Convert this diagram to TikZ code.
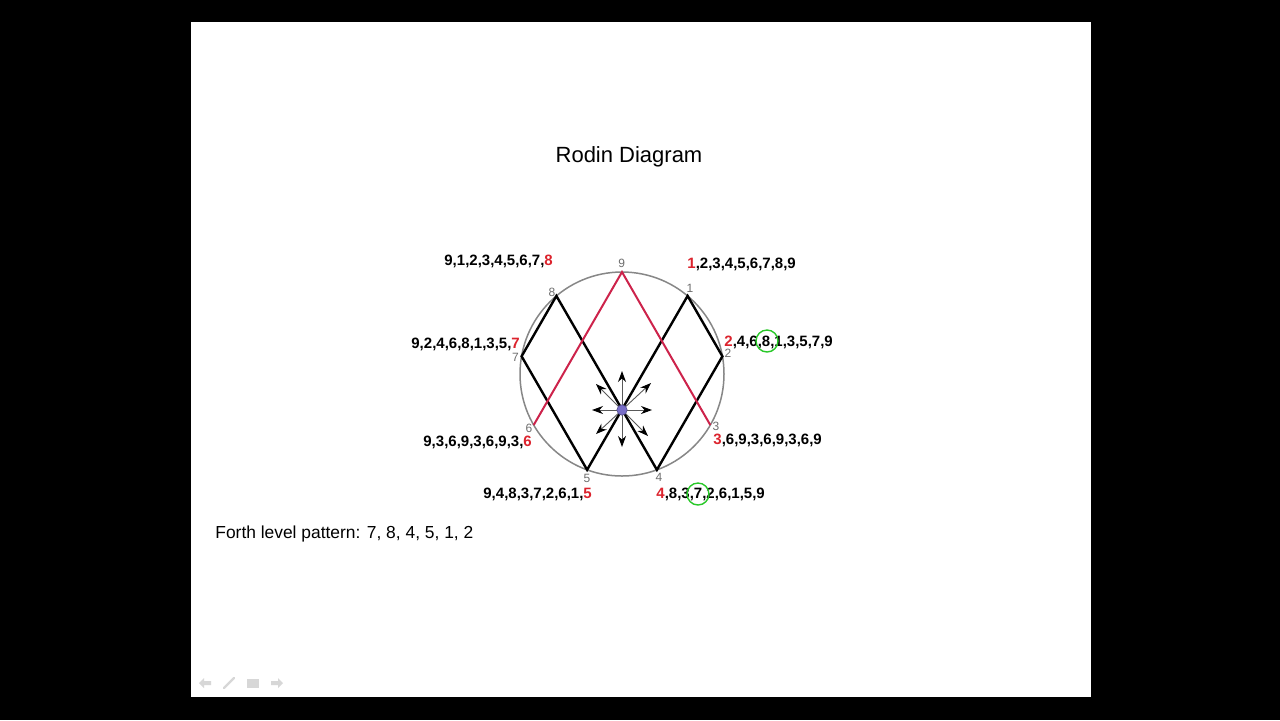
\documentclass[tikz,border=0pt]{standalone}
\usepackage{fontspec}
\setmainfont{Liberation Sans}
\usetikzlibrary{arrows.meta}
\definecolor{rodred}{RGB}{205,35,75}
\definecolor{labred}{RGB}{220,35,45}
\definecolor{ringgray}{RGB}{135,135,135}
\definecolor{numgray}{RGB}{110,110,110}
\definecolor{hubblue}{RGB}{120,110,200}
\definecolor{mark}{RGB}{40,200,40}
\definecolor{navgray}{RGB}{215,215,215}
\newcommand{\rd}[1]{\textcolor{labred}{#1}}
\tikzset{
  ring/.style={draw=ringgray, line width=0.75pt},
  blackpath/.style={draw=black, line width=1.2pt, line join=miter},
  redpath/.style={draw=rodred, line width=1pt, line join=miter},
  vnum/.style={text=numgray, font=\fontsize{6}{7}\selectfont, inner sep=0pt},
  seq/.style={font=\bfseries\fontsize{7.5}{9}\selectfont, inner sep=0pt, anchor=base west},
  ray/.style={draw=black!65, line width=0.45pt, -{Stealth[length=5.5pt,width=4pt,color=black]}},
  mk/.style={circle, draw=mark, line width=0.7pt, minimum size=11pt, inner sep=0pt},
  nav/.style={draw=navgray, fill=navgray, line width=0.6pt}
}
\begin{document}
\begin{tikzpicture}[x=0.5pt,y=-0.5pt]
\useasboundingbox (0,0) rectangle (1280,720);
\fill[black] (0,0) rectangle (1280,720);
\fill[white] (191,22) rectangle (1091,697);

% title
\node[font=\fontsize{11}{13}\selectfont, anchor=base, inner sep=0pt] (title) at (629,162) {Rodin Diagram};

% circle and vertices
\node[ring, circle, minimum size=102pt, inner sep=0pt] (ringc) at (622,374) {};
\coordinate (v9) at (622,272);
\coordinate (v1) at (687.6,295.9);
\coordinate (v2) at (722.4,356.3);
\coordinate (v3) at (710.3,425);
\coordinate (v4) at (656.9,469.8);
\coordinate (v5) at (587.1,469.8);
\coordinate (v6) at (533.7,425);
\coordinate (v7) at (521.6,356.3);
\coordinate (v8) at (556.4,295.9);

% black cycle 1-2-4-8-7-5
\draw[blackpath] (v1) -- (v2) -- (v4) -- (v8) -- (v7) -- (v5) -- cycle;
% red 6-9-3
\draw[redpath] (v6) -- (v9) -- (v3);

% vertex numbers
\node[vnum] (n9) at (621.7,263.5) {9};
\node[vnum] (n1) at (690,288.5) {1};
\node[vnum] (n2) at (728,353) {2};
\node[vnum] (n3) at (716,426) {3};
\node[vnum] (n4) at (659,477.5) {4};
\node[vnum] (n5) at (587,478) {5};
\node[vnum] (n6) at (529,428) {6};
\node[vnum] (n7) at (515.5,357.5) {7};
\node[vnum] (n8) at (552,292) {8};

% hub and rays
\coordinate (hub) at (622,410);
\coordinate (aU) at (622,371);
\coordinate (aD) at (622,447);
\coordinate (aL) at (592,410);
\coordinate (aR) at (652,410);
\coordinate (aUL) at (596,384);
\coordinate (aUR) at (651,383);
\coordinate (aDL) at (596,434);
\coordinate (aDR) at (648,436);
\foreach \t in {aU,aD,aL,aR,aUL,aUR,aDL,aDR}
  \draw[ray] (hub) -- (\t);
\node[circle, fill=hubblue, draw=hubblue!70!black, line width=0.3pt, minimum size=5.2pt, inner sep=0pt] (hubdot) at (hub) {};

% sequences
\node[seq] (L1) at (444,265) {9,1,2,3,4,5,6,7,\rd{8}};
\node[seq] (R1) at (687,268) {\rd{1},2,3,4,5,6,7,8,9};
\node[seq] (L2) at (411,348) {9,2,4,6,8,1,3,5,\rd{7}};
\node[seq] (R2) at (724,346) {\rd{2},4,6,8,1,3,5,7,9};
\node[seq] (L3) at (423,446) {9,3,6,9,3,6,9,3,\rd{6}};
\node[seq] (R3) at (713,444) {\rd{3},6,9,3,6,9,3,6,9};
\node[seq] (L4) at (483,498) {9,4,8,3,7,2,6,1,\rd{5}};
\node[seq] (R4) at (656,498) {\rd{4},8,3,7,2,6,1,5,9};

% green marks
\node[mk] (m1) at (767,341) {};
\node[mk] (m2) at (698,494) {};

% bottom text
\node[font=\fontsize{8.7}{10}\selectfont, anchor=base west, inner sep=0pt] (pattern) at (215,538.5) {Forth level pattern: 7, 8, 4, 5, 1, 2};

% navigation icons
\fill[navgray] (199,683) -- (204,678) -- (204,681) -- (211,681) -- (211,685) -- (204,685) -- (204,688) -- cycle;
\draw[navgray, line width=1.2pt, line cap=round] (224,688) -- (234,678);
\fill[navgray] (247,679) rectangle (259,688);
\fill[navgray] (283,683) -- (278,678) -- (278,681) -- (271,681) -- (271,685) -- (278,685) -- (278,688) -- cycle;
\end{tikzpicture}
\end{document}
